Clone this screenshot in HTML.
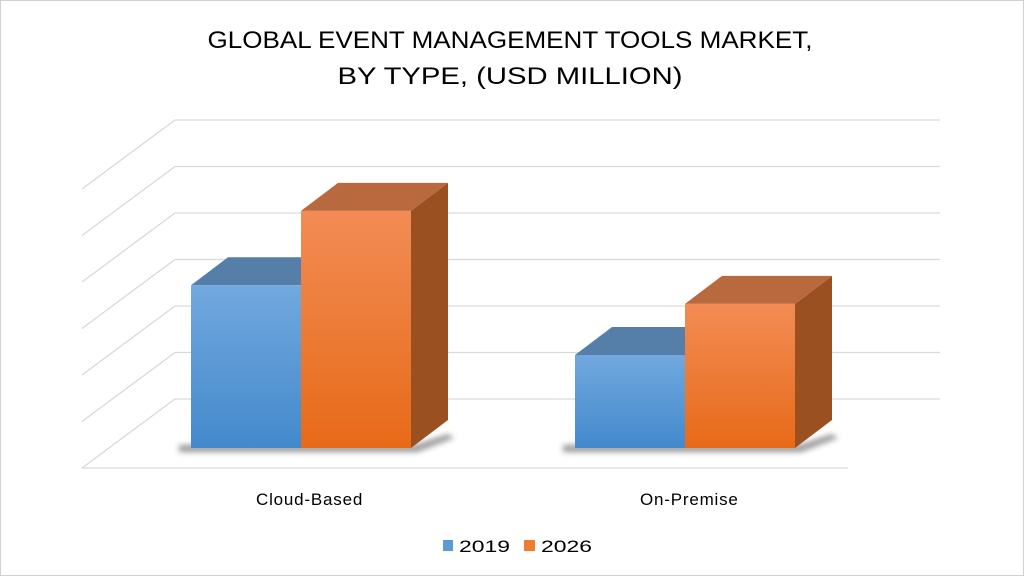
<!DOCTYPE html>
<html><head><meta charset="utf-8"><style>
html,body{margin:0;padding:0;background:#fff}
svg{display:block}
text{font-family:"Liberation Sans",sans-serif;fill:#000}
</style></head><body>
<svg width="1024" height="576" viewBox="0 0 1024 576">
<defs>
<linearGradient id="gb" x1="0" y1="0" x2="0" y2="1"><stop offset="0" stop-color="#72a8de"/><stop offset="1" stop-color="#4389cc"/></linearGradient>
<linearGradient id="go" x1="0" y1="0" x2="0" y2="1"><stop offset="0" stop-color="#f28c55"/><stop offset="1" stop-color="#e76a18"/></linearGradient>
<filter id="sh" x="-20%" y="-50%" width="140%" height="200%"><feGaussianBlur stdDeviation="3"/></filter>
</defs>
<rect x="0.5" y="0.5" width="1023" height="575" fill="#fff" stroke="#d0d0d0"/>
<text x="510" y="48" font-size="24" text-anchor="middle" textLength="605" lengthAdjust="spacingAndGlyphs">GLOBAL EVENT MANAGEMENT TOOLS MARKET,</text>
<text x="510" y="84" font-size="24" text-anchor="middle" textLength="345" lengthAdjust="spacingAndGlyphs">BY TYPE, (USD MILLION)</text>
<g id="grid"></g>
<g id="bars"></g>
<g id="cats"></g>
<g>
<rect x="443" y="540" width="10" height="11" fill="#5b9bd5"/>
<text x="459" y="552" font-size="17" textLength="51" lengthAdjust="spacingAndGlyphs">2019</text>
<rect x="524" y="540" width="11" height="11" fill="#ed7d31"/>
<text x="541" y="552" font-size="17" textLength="51" lengthAdjust="spacingAndGlyphs">2026</text>
</g>
</svg>
<script>
const categories = ["Cloud-Based", "On-Premise"];
const series2019 = [3.5, 2.0];
const series2026 = [5.1, 3.1];
const gridTicks = [0, 1, 2, 3, 4, 5, 6];

const NS = "http://www.w3.org/2000/svg";
const baseY = 448, unitPx = 46.5;
const backBaseY = 399, backX0 = 175, backX1 = 940, frontX0 = 82, frontX1 = 848, frontY = 468;
const dx = 37, dy = -28;
function yScale(v){ return baseY - v * unitPx; }
function backY(v){ return backBaseY - v * unitPx; }
const catX0 = [191, 575];
const barW = 110;

function mk(tag, attrs, parent){
  const e = document.createElementNS(NS, tag);
  for (const k in attrs) e.setAttribute(k, attrs[k]);
  parent.appendChild(e);
  return e;
}
const grid = document.getElementById('grid');
gridTicks.forEach(t => {
  const y = backY(t);
  const l = mk('polyline', {points: `${frontX0},${y+69} ${backX0},${y} ${backX1},${y}`, fill:'none', stroke:'#d9d9d9', 'stroke-width':1.3}, grid);
  
  
});
const fl = mk('line', {x1:frontX0, y1:frontY, x2:frontX1, y2:frontY, stroke:'#d9d9d9', 'stroke-width':1.3}, grid);



const bars = document.getElementById('bars');
function bar(x, v, front, top, side, name){
  const g = mk('g', {}, bars);
  
  
  const y = yScale(v), w = barW;
  mk('polygon', {points:`${x+w},${y} ${x+w+dx},${y+dy} ${x+w+dx},${baseY+dy} ${x+w},${baseY}`, fill:side}, g);
  mk('polygon', {points:`${x},${y} ${x+dx},${y+dy} ${x+w+dx},${y+dy} ${x+w},${y}`, fill:top}, g);
  mk('rect', {x:x, y:y, width:w, height:baseY-y, fill:front}, g);
}
const cats = document.getElementById('cats');
categories.forEach((c, i) => {
  const x = catX0[i];
  const s = mk('polygon', {points:`${x-12},${baseY-3} ${x+2*barW+4},${baseY-3} ${x+2*barW+dx},${baseY-14} ${x+2*barW+dx+6},${baseY-10} ${x+2*barW+6},${baseY+4} ${x-12},${baseY+4}`, fill:'#444', opacity:0.55, filter:'url(#sh)'}, bars);
  
  
  bar(x, series2019[i], 'url(#gb)', '#557ea8', '#3d6e9e', 'bar-2019-' + i);
  bar(x + barW, series2026[i], 'url(#go)', '#b8693e', '#9a5020', 'bar-2026-' + i);
  const t = mk('text', {x: x + barW - 45, y: 505, 'font-size': 17, 'letter-spacing':'0.8'}, cats);
  t.textContent = c;
  
  
});
</script>
</body></html>
